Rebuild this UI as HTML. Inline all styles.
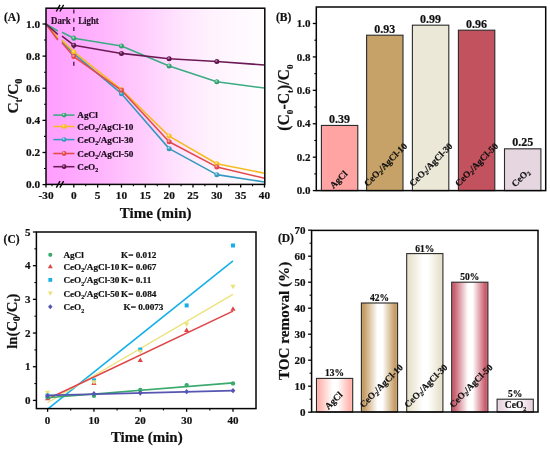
<!DOCTYPE html>
<html><head><meta charset="utf-8"><title>Figure</title>
<style>html,body{margin:0;padding:0;background:#fff;}svg{display:block;will-change:transform;} text{stroke:#111;stroke-width:0.2px;}</style></head>
<body><svg width="550" height="451" viewBox="0 0 550 451">
<rect width="550" height="451" fill="#fff"/>
<defs>
<linearGradient id="gA" x1="0" x2="1" y1="0" y2="0"><stop offset="0" stop-color="#ff9eff"/><stop offset="0.06" stop-color="#ffa2ff"/><stop offset="0.247" stop-color="#ffb4fd"/><stop offset="0.45" stop-color="#ffcdfd"/><stop offset="0.635" stop-color="#ffe7fe"/><stop offset="0.77" stop-color="#fff3fe"/><stop offset="0.93" stop-color="#fffafe"/><stop offset="1" stop-color="#fffcfe"/></linearGradient>
<radialGradient id="sG" cx="0.4" cy="0.35" r="0.65"><stop offset="0" stop-color="#b8f0d0"/><stop offset="0.5" stop-color="#34a070"/><stop offset="1" stop-color="#34a070"/></radialGradient>
<radialGradient id="sY" cx="0.4" cy="0.35" r="0.65"><stop offset="0" stop-color="#fff2a0"/><stop offset="0.5" stop-color="#f6bc1e"/><stop offset="1" stop-color="#f6bc1e"/></radialGradient>
<radialGradient id="sB" cx="0.4" cy="0.35" r="0.65"><stop offset="0" stop-color="#b0f0ff"/><stop offset="0.5" stop-color="#3599bd"/><stop offset="1" stop-color="#3599bd"/></radialGradient>
<radialGradient id="sR" cx="0.4" cy="0.35" r="0.65"><stop offset="0" stop-color="#ffc0c0"/><stop offset="0.5" stop-color="#e54848"/><stop offset="1" stop-color="#e54848"/></radialGradient>
<radialGradient id="sP" cx="0.4" cy="0.35" r="0.65"><stop offset="0" stop-color="#d090c0"/><stop offset="0.5" stop-color="#5a1446"/><stop offset="1" stop-color="#5a1446"/></radialGradient>
<linearGradient id="dA" x1="0" x2="1" y1="0" y2="0"><stop offset="0" stop-color="#ffc4bc"/><stop offset="0.06" stop-color="#ffb4ac"/><stop offset="0.45" stop-color="#ffffff"/><stop offset="0.58" stop-color="#ffffff"/><stop offset="0.93" stop-color="#ffb4ac"/><stop offset="1" stop-color="#ffc4bc"/></linearGradient>
<linearGradient id="d10" x1="0" x2="1" y1="0" y2="0"><stop offset="0" stop-color="#cca878"/><stop offset="0.06" stop-color="#c49a62"/><stop offset="0.45" stop-color="#ffffff"/><stop offset="0.58" stop-color="#ffffff"/><stop offset="0.93" stop-color="#c49a62"/><stop offset="1" stop-color="#cca878"/></linearGradient>
<linearGradient id="d30" x1="0" x2="1" y1="0" y2="0"><stop offset="0" stop-color="#eee8d6"/><stop offset="0.06" stop-color="#e8e2cc"/><stop offset="0.45" stop-color="#ffffff"/><stop offset="0.58" stop-color="#ffffff"/><stop offset="0.93" stop-color="#e8e2cc"/><stop offset="1" stop-color="#eee8d6"/></linearGradient>
<linearGradient id="d50" x1="0" x2="1" y1="0" y2="0"><stop offset="0" stop-color="#d8707e"/><stop offset="0.06" stop-color="#c85a6a"/><stop offset="0.45" stop-color="#ffffff"/><stop offset="0.58" stop-color="#ffffff"/><stop offset="0.93" stop-color="#c85a6a"/><stop offset="1" stop-color="#d8707e"/></linearGradient>
<linearGradient id="dC" x1="0" x2="1" y1="0" y2="0"><stop offset="0" stop-color="#ecdce6"/><stop offset="0.06" stop-color="#e6d2de"/><stop offset="0.45" stop-color="#ffffff"/><stop offset="0.58" stop-color="#ffffff"/><stop offset="0.93" stop-color="#e6d2de"/><stop offset="1" stop-color="#ecdce6"/></linearGradient>
</defs>
<rect x="46.0" y="8.2" width="218.8" height="176.20000000000002" fill="url(#gA)"/>
<line x1="73.8" y1="9.6" x2="73.8" y2="68" stroke="#4a2448" stroke-width="1.4" stroke-dasharray="4,4.7"/>
<polyline points="46,24 57.8,38.63" fill="none" stroke="#3599bd" stroke-width="1.55"/>
<polyline points="62,41.1 73.8,53.71 121.47,93.7 169.15,148.63 216.82,174.64 264.5,182.03" fill="none" stroke="#3599bd" stroke-width="1.55" stroke-linejoin="round"/>
<polyline points="46,24 57.8,37.76" fill="none" stroke="#f6bc1e" stroke-width="1.55"/>
<polyline points="62,40.08 73.8,51.94 121.47,89.52 169.15,136.1 216.82,163.72 264.5,173.2" fill="none" stroke="#f6bc1e" stroke-width="1.55" stroke-linejoin="round"/>
<polyline points="46,24 57.8,40.05" fill="none" stroke="#e54848" stroke-width="1.55"/>
<polyline points="62,42.76 73.8,56.6 121.47,90.33 169.15,141.72 216.82,166.93 264.5,178.34" fill="none" stroke="#e54848" stroke-width="1.55" stroke-linejoin="round"/>
<polyline points="46,24 57.8,31.04" fill="none" stroke="#3aab82" stroke-width="1.55"/>
<polyline points="62,32.23 73.8,38.29 121.47,46 169.15,65.92 216.82,81.82 264.5,88.08" fill="none" stroke="#3aab82" stroke-width="1.55" stroke-linejoin="round"/>
<polyline points="46,24 57.8,34.44" fill="none" stroke="#6c1a56" stroke-width="1.55"/>
<polyline points="62,36.2 73.8,45.2 121.47,53.39 169.15,58.85 216.82,61.58 264.5,64.95" fill="none" stroke="#6c1a56" stroke-width="1.55" stroke-linejoin="round"/>
<circle cx="73.8" cy="53.71" r="2.5" fill="url(#sB)"/>
<circle cx="121.47" cy="93.7" r="2.5" fill="url(#sB)"/>
<circle cx="169.15" cy="148.63" r="2.5" fill="url(#sB)"/>
<circle cx="216.82" cy="174.64" r="2.5" fill="url(#sB)"/>
<circle cx="73.8" cy="51.94" r="2.5" fill="url(#sY)"/>
<circle cx="121.47" cy="89.52" r="2.5" fill="url(#sY)"/>
<circle cx="169.15" cy="136.1" r="2.5" fill="url(#sY)"/>
<circle cx="216.82" cy="163.72" r="2.5" fill="url(#sY)"/>
<circle cx="73.8" cy="56.6" r="2.5" fill="url(#sR)"/>
<circle cx="121.47" cy="90.33" r="2.5" fill="url(#sR)"/>
<circle cx="169.15" cy="141.72" r="2.5" fill="url(#sR)"/>
<circle cx="216.82" cy="166.93" r="2.5" fill="url(#sR)"/>
<circle cx="73.8" cy="38.29" r="2.5" fill="url(#sG)"/>
<circle cx="121.47" cy="46" r="2.5" fill="url(#sG)"/>
<circle cx="169.15" cy="65.92" r="2.5" fill="url(#sG)"/>
<circle cx="216.82" cy="81.82" r="2.5" fill="url(#sG)"/>
<circle cx="73.8" cy="45.2" r="2.5" fill="url(#sP)"/>
<circle cx="121.47" cy="53.39" r="2.5" fill="url(#sP)"/>
<circle cx="169.15" cy="58.85" r="2.5" fill="url(#sP)"/>
<circle cx="216.82" cy="61.58" r="2.5" fill="url(#sP)"/>
<text x="51.1" y="23.7" font-size="9.6" textLength="19.6" lengthAdjust="spacingAndGlyphs" font-family="Liberation Serif" font-weight="bold" fill="#2a0f2a">Dark</text>
<text x="78.2" y="23.7" font-size="9.6" textLength="20.6" lengthAdjust="spacingAndGlyphs" font-family="Liberation Serif" font-weight="bold" fill="#2a0f2a">Light</text>
<line x1="53.3" y1="115.1" x2="74.5" y2="115.1" stroke="#3aab82" stroke-width="1.55"/>
<circle cx="64.1" cy="115.1" r="2.4" fill="url(#sG)"/>
<text x="77.3" y="118.1" font-size="9.2" font-family="Liberation Serif" font-weight="bold" fill="#1e0a1e">AgCl</text>
<line x1="53.3" y1="126.5" x2="74.5" y2="126.5" stroke="#f6bc1e" stroke-width="1.55"/>
<circle cx="64.1" cy="126.5" r="2.4" fill="url(#sY)"/>
<text x="77.3" y="129.5" font-size="9.2" font-family="Liberation Serif" font-weight="bold" fill="#1e0a1e">CeO<tspan font-size="5.98" dy="2.76">2</tspan><tspan dy="-2.76">/AgCl-10</tspan></text>
<line x1="53.3" y1="139.6" x2="74.5" y2="139.6" stroke="#3599bd" stroke-width="1.55"/>
<circle cx="64.1" cy="139.6" r="2.4" fill="url(#sB)"/>
<text x="77.3" y="142.6" font-size="9.2" font-family="Liberation Serif" font-weight="bold" fill="#1e0a1e">CeO<tspan font-size="5.98" dy="2.76">2</tspan><tspan dy="-2.76">/AgCl-30</tspan></text>
<line x1="53.3" y1="153.5" x2="74.5" y2="153.5" stroke="#e54848" stroke-width="1.55"/>
<circle cx="64.1" cy="153.5" r="2.4" fill="url(#sR)"/>
<text x="77.3" y="156.5" font-size="9.2" font-family="Liberation Serif" font-weight="bold" fill="#1e0a1e">CeO<tspan font-size="5.98" dy="2.76">2</tspan><tspan dy="-2.76">/AgCl-50</tspan></text>
<line x1="53.3" y1="166.7" x2="74.5" y2="166.7" stroke="#6c1a56" stroke-width="1.55"/>
<circle cx="64.1" cy="166.7" r="2.4" fill="url(#sP)"/>
<text x="77.3" y="169.7" font-size="9.2" font-family="Liberation Serif" font-weight="bold" fill="#1e0a1e">CeO<tspan font-size="5.98" dy="2.76">2</tspan><tspan dy="-2.76"></tspan></text>
<rect x="46.0" y="8.2" width="218.8" height="176.20000000000002" fill="none" stroke="#050505" stroke-width="1.5"/>
<line x1="56.3" y1="11.5" x2="60.0" y2="4.9" stroke="#050505" stroke-width="1.4"/>
<line x1="59.9" y1="11.5" x2="63.6" y2="4.9" stroke="#050505" stroke-width="1.4"/>
<line x1="56.3" y1="187.7" x2="60.0" y2="181.1" stroke="#050505" stroke-width="1.4"/>
<line x1="59.9" y1="187.7" x2="63.6" y2="181.1" stroke="#050505" stroke-width="1.4"/>
<line x1="73.8" y1="184.4" x2="73.8" y2="187.6" stroke="#050505" stroke-width="1.3"/>
<line x1="97.64" y1="184.4" x2="97.64" y2="187.6" stroke="#050505" stroke-width="1.3"/>
<line x1="121.47" y1="184.4" x2="121.47" y2="187.6" stroke="#050505" stroke-width="1.3"/>
<line x1="145.31" y1="184.4" x2="145.31" y2="187.6" stroke="#050505" stroke-width="1.3"/>
<line x1="169.15" y1="184.4" x2="169.15" y2="187.6" stroke="#050505" stroke-width="1.3"/>
<line x1="192.99" y1="184.4" x2="192.99" y2="187.6" stroke="#050505" stroke-width="1.3"/>
<line x1="216.82" y1="184.4" x2="216.82" y2="187.6" stroke="#050505" stroke-width="1.3"/>
<line x1="240.66" y1="184.4" x2="240.66" y2="187.6" stroke="#050505" stroke-width="1.3"/>
<line x1="264.5" y1="184.4" x2="264.5" y2="187.6" stroke="#050505" stroke-width="1.3"/>
<line x1="85.72" y1="184.4" x2="85.72" y2="186.20000000000002" stroke="#050505" stroke-width="1.1"/>
<line x1="109.56" y1="184.4" x2="109.56" y2="186.20000000000002" stroke="#050505" stroke-width="1.1"/>
<line x1="133.39" y1="184.4" x2="133.39" y2="186.20000000000002" stroke="#050505" stroke-width="1.1"/>
<line x1="157.23" y1="184.4" x2="157.23" y2="186.20000000000002" stroke="#050505" stroke-width="1.1"/>
<line x1="181.07" y1="184.4" x2="181.07" y2="186.20000000000002" stroke="#050505" stroke-width="1.1"/>
<line x1="204.91" y1="184.4" x2="204.91" y2="186.20000000000002" stroke="#050505" stroke-width="1.1"/>
<line x1="228.74" y1="184.4" x2="228.74" y2="186.20000000000002" stroke="#050505" stroke-width="1.1"/>
<line x1="252.58" y1="184.4" x2="252.58" y2="186.20000000000002" stroke="#050505" stroke-width="1.1"/>
<line x1="46.0" y1="184.4" x2="46.0" y2="187.6" stroke="#050505" stroke-width="1.3"/>
<line x1="52" y1="184.4" x2="52" y2="186.20000000000002" stroke="#050505" stroke-width="1.1"/>
<text x="46" y="198.8" font-size="11.3" font-family="Liberation Serif" font-weight="bold" text-anchor="middle" fill="#111">-30</text>
<text x="73.8" y="198.8" font-size="11.3" font-family="Liberation Serif" font-weight="bold" text-anchor="middle" fill="#111">0</text>
<text x="97.64" y="198.8" font-size="11.3" font-family="Liberation Serif" font-weight="bold" text-anchor="middle" fill="#111">5</text>
<text x="121.47" y="198.8" font-size="11.3" font-family="Liberation Serif" font-weight="bold" text-anchor="middle" fill="#111">10</text>
<text x="145.31" y="198.8" font-size="11.3" font-family="Liberation Serif" font-weight="bold" text-anchor="middle" fill="#111">15</text>
<text x="169.15" y="198.8" font-size="11.3" font-family="Liberation Serif" font-weight="bold" text-anchor="middle" fill="#111">20</text>
<text x="192.99" y="198.8" font-size="11.3" font-family="Liberation Serif" font-weight="bold" text-anchor="middle" fill="#111">25</text>
<text x="216.82" y="198.8" font-size="11.3" font-family="Liberation Serif" font-weight="bold" text-anchor="middle" fill="#111">30</text>
<text x="240.66" y="198.8" font-size="11.3" font-family="Liberation Serif" font-weight="bold" text-anchor="middle" fill="#111">35</text>
<text x="264.5" y="198.8" font-size="11.3" font-family="Liberation Serif" font-weight="bold" text-anchor="middle" fill="#111">40</text>
<line x1="42.5" y1="184.6" x2="46.0" y2="184.6" stroke="#050505" stroke-width="1.3"/>
<text x="40.2" y="188.3" font-size="11.3" font-family="Liberation Serif" font-weight="bold" text-anchor="end" fill="#111">0.0</text>
<line x1="42.5" y1="152.48" x2="46.0" y2="152.48" stroke="#050505" stroke-width="1.3"/>
<text x="40.2" y="156.18" font-size="11.3" font-family="Liberation Serif" font-weight="bold" text-anchor="end" fill="#111">0.2</text>
<line x1="42.5" y1="120.36" x2="46.0" y2="120.36" stroke="#050505" stroke-width="1.3"/>
<text x="40.2" y="124.06" font-size="11.3" font-family="Liberation Serif" font-weight="bold" text-anchor="end" fill="#111">0.4</text>
<line x1="42.5" y1="88.24" x2="46.0" y2="88.24" stroke="#050505" stroke-width="1.3"/>
<text x="40.2" y="91.94" font-size="11.3" font-family="Liberation Serif" font-weight="bold" text-anchor="end" fill="#111">0.6</text>
<line x1="42.5" y1="56.12" x2="46.0" y2="56.12" stroke="#050505" stroke-width="1.3"/>
<text x="40.2" y="59.82" font-size="11.3" font-family="Liberation Serif" font-weight="bold" text-anchor="end" fill="#111">0.8</text>
<line x1="42.5" y1="24" x2="46.0" y2="24" stroke="#050505" stroke-width="1.3"/>
<text x="40.2" y="27.7" font-size="11.3" font-family="Liberation Serif" font-weight="bold" text-anchor="end" fill="#111">1.0</text>
<line x1="44.0" y1="168.54" x2="46.0" y2="168.54" stroke="#050505" stroke-width="1.1"/>
<line x1="44.0" y1="136.42" x2="46.0" y2="136.42" stroke="#050505" stroke-width="1.1"/>
<line x1="44.0" y1="104.3" x2="46.0" y2="104.3" stroke="#050505" stroke-width="1.1"/>
<line x1="44.0" y1="72.18" x2="46.0" y2="72.18" stroke="#050505" stroke-width="1.1"/>
<line x1="44.0" y1="40.06" x2="46.0" y2="40.06" stroke="#050505" stroke-width="1.1"/>
<text x="4" y="21.1" font-size="11.5" font-family="Liberation Serif" font-weight="bold" fill="#111">(A)</text>
<text x="155.7" y="218.3" font-size="15" font-family="Liberation Serif" font-weight="bold" text-anchor="middle" fill="#111">Time (min)</text>
<text transform="translate(18.2,96.1) rotate(-90)" font-size="15.5" font-family="Liberation Serif" font-weight="bold" text-anchor="middle" fill="#111">C<tspan font-size="9.5" dy="3.6">t</tspan><tspan dy="-3.6">/C</tspan><tspan font-size="9.5" dy="3.6">0</tspan></text>
<rect x="321.4" y="125.43" width="36.4" height="65.17" fill="#ffa3a3" stroke="#2a2a2a" stroke-width="1.1"/>
<text x="339.6" y="123.03" font-size="12" font-family="Liberation Serif" font-weight="bold" text-anchor="middle" fill="#111">0.39</text>
<rect x="366.6" y="35.2" width="36.4" height="155.4" fill="#c6a268" stroke="#2a2a2a" stroke-width="1.1"/>
<text x="384.8" y="32.8" font-size="12" font-family="Liberation Serif" font-weight="bold" text-anchor="middle" fill="#111">0.93</text>
<rect x="412.4" y="25.17" width="36.4" height="165.43" fill="#ece8d8" stroke="#2a2a2a" stroke-width="1.1"/>
<text x="430.6" y="22.77" font-size="12" font-family="Liberation Serif" font-weight="bold" text-anchor="middle" fill="#111">0.99</text>
<rect x="458.4" y="30.18" width="36.4" height="160.42" fill="#c2525e" stroke="#2a2a2a" stroke-width="1.1"/>
<text x="476.6" y="27.78" font-size="12" font-family="Liberation Serif" font-weight="bold" text-anchor="middle" fill="#111">0.96</text>
<rect x="504.5" y="148.82" width="36.4" height="41.78" fill="#e6d6e0" stroke="#2a2a2a" stroke-width="1.1"/>
<text x="522.7" y="146.42" font-size="12" font-family="Liberation Serif" font-weight="bold" text-anchor="middle" fill="#111">0.25</text>
<text transform="translate(339.2,180.2) rotate(-45)" font-size="9.3" font-family="Liberation Serif" font-weight="bold" text-anchor="middle" dominant-baseline="middle" fill="#111">AgCl</text>
<text transform="translate(386.2,165.4) rotate(-45)" font-size="9.3" font-family="Liberation Serif" font-weight="bold" text-anchor="middle" dominant-baseline="middle" fill="#111">CeO<tspan font-size="6.05" dy="2.79">2</tspan><tspan dy="-2.79">/AgCl-10</tspan></text>
<text transform="translate(431.6,165.4) rotate(-45)" font-size="9.3" font-family="Liberation Serif" font-weight="bold" text-anchor="middle" dominant-baseline="middle" fill="#111">CeO<tspan font-size="6.05" dy="2.79">2</tspan><tspan dy="-2.79">/AgCl-30</tspan></text>
<text transform="translate(477.2,165.4) rotate(-45)" font-size="9.3" font-family="Liberation Serif" font-weight="bold" text-anchor="middle" dominant-baseline="middle" fill="#111">CeO<tspan font-size="6.05" dy="2.79">2</tspan><tspan dy="-2.79">/AgCl-50</tspan></text>
<text transform="translate(521.2,178.6) rotate(-45)" font-size="9.3" font-family="Liberation Serif" font-weight="bold" text-anchor="middle" dominant-baseline="middle" fill="#111">CeO<tspan font-size="6.05" dy="2.79">2</tspan><tspan dy="-2.79"></tspan></text>
<rect x="316.3" y="7.0" width="229.40000000000003" height="183.6" fill="none" stroke="#050505" stroke-width="1.5"/>
<line x1="312.8" y1="190.6" x2="316.3" y2="190.6" stroke="#050505" stroke-width="1.3"/>
<text x="310.5" y="194.3" font-size="11" font-family="Liberation Serif" font-weight="bold" text-anchor="end" fill="#111">0.0</text>
<line x1="312.8" y1="157.18" x2="316.3" y2="157.18" stroke="#050505" stroke-width="1.3"/>
<text x="310.5" y="160.88" font-size="11" font-family="Liberation Serif" font-weight="bold" text-anchor="end" fill="#111">0.2</text>
<line x1="312.8" y1="123.76" x2="316.3" y2="123.76" stroke="#050505" stroke-width="1.3"/>
<text x="310.5" y="127.46" font-size="11" font-family="Liberation Serif" font-weight="bold" text-anchor="end" fill="#111">0.4</text>
<line x1="312.8" y1="90.34" x2="316.3" y2="90.34" stroke="#050505" stroke-width="1.3"/>
<text x="310.5" y="94.04" font-size="11" font-family="Liberation Serif" font-weight="bold" text-anchor="end" fill="#111">0.6</text>
<line x1="312.8" y1="56.92" x2="316.3" y2="56.92" stroke="#050505" stroke-width="1.3"/>
<text x="310.5" y="60.62" font-size="11" font-family="Liberation Serif" font-weight="bold" text-anchor="end" fill="#111">0.8</text>
<line x1="312.8" y1="23.5" x2="316.3" y2="23.5" stroke="#050505" stroke-width="1.3"/>
<text x="310.5" y="27.2" font-size="11" font-family="Liberation Serif" font-weight="bold" text-anchor="end" fill="#111">1.0</text>
<line x1="314.3" y1="173.89" x2="316.3" y2="173.89" stroke="#050505" stroke-width="1.1"/>
<line x1="314.3" y1="140.47" x2="316.3" y2="140.47" stroke="#050505" stroke-width="1.1"/>
<line x1="314.3" y1="107.05" x2="316.3" y2="107.05" stroke="#050505" stroke-width="1.1"/>
<line x1="314.3" y1="73.63" x2="316.3" y2="73.63" stroke="#050505" stroke-width="1.1"/>
<line x1="314.3" y1="40.21" x2="316.3" y2="40.21" stroke="#050505" stroke-width="1.1"/>
<text x="276" y="20.6" font-size="11.5" font-family="Liberation Serif" font-weight="bold" fill="#111">(B)</text>
<text transform="translate(288.8,97.6) rotate(-90)" font-size="15.7" font-family="Liberation Serif" font-weight="bold" text-anchor="middle" fill="#111">(C<tspan font-size="9.2" dy="3.8">0</tspan><tspan dy="-3.8">-C</tspan><tspan font-size="9.2" dy="3.8">t</tspan><tspan dy="-3.8">)/C</tspan><tspan font-size="9.2" dy="3.8">0</tspan></text>
<defs><clipPath id="cpC"><rect x="36.4" y="232.0" width="219.6" height="176.60000000000002"/></clipPath></defs>
<line x1="47.6" y1="409.16" x2="233" y2="260.96" stroke="#16b0e8" stroke-width="1.6" clip-path="url(#cpC)"/>
<line x1="47.6" y1="402.76" x2="233" y2="294.31" stroke="#ece27a" stroke-width="1.35" clip-path="url(#cpC)"/>
<line x1="47.6" y1="399.05" x2="233" y2="311.15" stroke="#de4448" stroke-width="1.6" clip-path="url(#cpC)"/>
<line x1="47.6" y1="397.71" x2="233" y2="382.89" stroke="#3aaa6e" stroke-width="1.6" clip-path="url(#cpC)"/>
<line x1="47.6" y1="395.35" x2="233" y2="390.63" stroke="#5656b2" stroke-width="1.6" clip-path="url(#cpC)"/>
<rect x="45.6" y="393.35" width="4" height="4" fill="#16b0e8"/>
<rect x="91.95" y="378.33" width="4" height="4" fill="#16b0e8"/>
<rect x="138.3" y="347.54" width="4" height="4" fill="#16b0e8"/>
<rect x="184.65" y="303.42" width="4" height="4" fill="#16b0e8"/>
<rect x="231" y="243.47" width="4" height="4" fill="#16b0e8"/>
<polygon points="47.6,395.78 50.2,400.28 45,400.28" fill="#de4448"/>
<polygon points="93.95,380.62 96.55,385.12 91.35,385.12" fill="#de4448"/>
<polygon points="140.3,357.38 142.9,361.88 137.7,361.88" fill="#de4448"/>
<polygon points="186.65,327.41 189.25,331.91 184.05,331.91" fill="#de4448"/>
<polygon points="233,306.19 235.6,310.69 230.4,310.69" fill="#de4448"/>
<polygon points="47.6,395.25 50.2,390.75 45,390.75" fill="#ece27a"/>
<polygon points="93.95,384.81 96.55,380.31 91.35,380.31" fill="#ece27a"/>
<polygon points="140.3,354.16 142.9,349.66 137.7,349.66" fill="#ece27a"/>
<polygon points="186.65,326.88 189.25,322.38 184.05,322.38" fill="#ece27a"/>
<polygon points="233,289.16 235.6,284.66 230.4,284.66" fill="#ece27a"/>
<circle cx="47.6" cy="397.37" r="2.2" fill="#3aaa6e"/>
<circle cx="93.95" cy="395.68" r="2.2" fill="#3aaa6e"/>
<circle cx="140.3" cy="389.96" r="2.2" fill="#3aaa6e"/>
<circle cx="186.65" cy="385.08" r="2.2" fill="#3aaa6e"/>
<circle cx="233" cy="383.39" r="2.2" fill="#3aaa6e"/>
<polygon points="47.6,392.98 50,395.68 47.6,398.38 45.2,395.68" fill="#5656b2"/>
<polygon points="93.95,390.96 96.35,393.66 93.95,396.36 91.55,393.66" fill="#5656b2"/>
<polygon points="140.3,390.29 142.7,392.99 140.3,395.69 137.9,392.99" fill="#5656b2"/>
<polygon points="186.65,388.94 189.05,391.64 186.65,394.34 184.25,391.64" fill="#5656b2"/>
<polygon points="233,387.93 235.4,390.63 233,393.33 230.6,390.63" fill="#5656b2"/>
<circle cx="50.3" cy="254.8" r="2.09" fill="#3aaa6e"/>
<text x="63.4" y="257.9" font-size="9.2" font-family="Liberation Serif" font-weight="bold" fill="#111">AgCl</text>
<text x="121.0" y="257.9" font-size="9.2" font-family="Liberation Serif" font-weight="bold" fill="#111">K= 0.012</text>
<polygon points="50.3,263.93 52.77,268.2 47.83,268.2" fill="#de4448"/>
<text x="63.4" y="269.5" font-size="9.2" font-family="Liberation Serif" font-weight="bold" fill="#111">CeO<tspan font-size="5.98" dy="2.76">2</tspan><tspan dy="-2.76">/AgCl-10</tspan></text>
<text x="121.0" y="269.5" font-size="9.2" font-family="Liberation Serif" font-weight="bold" fill="#111">K= 0.067</text>
<rect x="48.4" y="278" width="3.8" height="3.8" fill="#16b0e8"/>
<text x="63.4" y="283" font-size="9.2" font-family="Liberation Serif" font-weight="bold" fill="#111">CeO<tspan font-size="5.98" dy="2.76">2</tspan><tspan dy="-2.76">/AgCl-30</tspan></text>
<text x="121.0" y="283" font-size="9.2" font-family="Liberation Serif" font-weight="bold" fill="#111">K= 0.11</text>
<polygon points="50.3,295.87 52.77,291.59 47.83,291.59" fill="#ece27a"/>
<text x="63.4" y="296.5" font-size="9.2" font-family="Liberation Serif" font-weight="bold" fill="#111">CeO<tspan font-size="5.98" dy="2.76">2</tspan><tspan dy="-2.76">/AgCl-50</tspan></text>
<text x="121.0" y="296.5" font-size="9.2" font-family="Liberation Serif" font-weight="bold" fill="#111">K= 0.084</text>
<polygon points="50.3,304.24 52.58,306.8 50.3,309.37 48.02,306.8" fill="#5656b2"/>
<text x="63.4" y="309.9" font-size="9.2" font-family="Liberation Serif" font-weight="bold" fill="#111">CeO<tspan font-size="5.98" dy="2.76">2</tspan><tspan dy="-2.76"></tspan></text>
<text x="123.5" y="309.9" font-size="9.2" font-family="Liberation Serif" font-weight="bold" fill="#111">K= 0.0073</text>
<rect x="36.4" y="232.0" width="219.6" height="176.60000000000002" fill="none" stroke="#050505" stroke-width="1.5"/>
<line x1="47.6" y1="408.6" x2="47.6" y2="411.8" stroke="#050505" stroke-width="1.3"/>
<text x="47.6" y="423.8" font-size="11" font-family="Liberation Serif" font-weight="bold" text-anchor="middle" fill="#111">0</text>
<line x1="93.95" y1="408.6" x2="93.95" y2="411.8" stroke="#050505" stroke-width="1.3"/>
<text x="93.95" y="423.8" font-size="11" font-family="Liberation Serif" font-weight="bold" text-anchor="middle" fill="#111">10</text>
<line x1="140.3" y1="408.6" x2="140.3" y2="411.8" stroke="#050505" stroke-width="1.3"/>
<text x="140.3" y="423.8" font-size="11" font-family="Liberation Serif" font-weight="bold" text-anchor="middle" fill="#111">20</text>
<line x1="186.65" y1="408.6" x2="186.65" y2="411.8" stroke="#050505" stroke-width="1.3"/>
<text x="186.65" y="423.8" font-size="11" font-family="Liberation Serif" font-weight="bold" text-anchor="middle" fill="#111">30</text>
<line x1="233" y1="408.6" x2="233" y2="411.8" stroke="#050505" stroke-width="1.3"/>
<text x="233" y="423.8" font-size="11" font-family="Liberation Serif" font-weight="bold" text-anchor="middle" fill="#111">40</text>
<line x1="70.78" y1="408.6" x2="70.78" y2="410.40000000000003" stroke="#050505" stroke-width="1.1"/>
<line x1="117.12" y1="408.6" x2="117.12" y2="410.40000000000003" stroke="#050505" stroke-width="1.1"/>
<line x1="163.47" y1="408.6" x2="163.47" y2="410.40000000000003" stroke="#050505" stroke-width="1.1"/>
<line x1="209.82" y1="408.6" x2="209.82" y2="410.40000000000003" stroke="#050505" stroke-width="1.1"/>
<line x1="32.9" y1="400.4" x2="36.4" y2="400.4" stroke="#050505" stroke-width="1.3"/>
<text x="30.5" y="404.1" font-size="11" font-family="Liberation Serif" font-weight="bold" text-anchor="end" fill="#111">0</text>
<line x1="32.9" y1="366.72" x2="36.4" y2="366.72" stroke="#050505" stroke-width="1.3"/>
<text x="30.5" y="370.42" font-size="11" font-family="Liberation Serif" font-weight="bold" text-anchor="end" fill="#111">1</text>
<line x1="32.9" y1="333.04" x2="36.4" y2="333.04" stroke="#050505" stroke-width="1.3"/>
<text x="30.5" y="336.74" font-size="11" font-family="Liberation Serif" font-weight="bold" text-anchor="end" fill="#111">2</text>
<line x1="32.9" y1="299.36" x2="36.4" y2="299.36" stroke="#050505" stroke-width="1.3"/>
<text x="30.5" y="303.06" font-size="11" font-family="Liberation Serif" font-weight="bold" text-anchor="end" fill="#111">3</text>
<line x1="32.9" y1="265.68" x2="36.4" y2="265.68" stroke="#050505" stroke-width="1.3"/>
<text x="30.5" y="269.38" font-size="11" font-family="Liberation Serif" font-weight="bold" text-anchor="end" fill="#111">4</text>
<line x1="32.9" y1="232" x2="36.4" y2="232" stroke="#050505" stroke-width="1.3"/>
<text x="30.5" y="235.7" font-size="11" font-family="Liberation Serif" font-weight="bold" text-anchor="end" fill="#111">5</text>
<line x1="34.4" y1="383.56" x2="36.4" y2="383.56" stroke="#050505" stroke-width="1.1"/>
<line x1="34.4" y1="349.88" x2="36.4" y2="349.88" stroke="#050505" stroke-width="1.1"/>
<line x1="34.4" y1="316.2" x2="36.4" y2="316.2" stroke="#050505" stroke-width="1.1"/>
<line x1="34.4" y1="282.52" x2="36.4" y2="282.52" stroke="#050505" stroke-width="1.1"/>
<line x1="34.4" y1="248.84" x2="36.4" y2="248.84" stroke="#050505" stroke-width="1.1"/>
<text x="3.6" y="242.8" font-size="11.5" font-family="Liberation Serif" font-weight="bold" fill="#111">(C)</text>
<text x="146.8" y="441.9" font-size="15" font-family="Liberation Serif" font-weight="bold" text-anchor="middle" fill="#111">Time (min)</text>
<text transform="translate(16.9,321.1) rotate(-90)" font-size="14.7" font-family="Liberation Serif" font-weight="bold" text-anchor="middle" fill="#111">ln(C<tspan font-size="9.5" dy="3">0</tspan><tspan dy="-3">/C</tspan><tspan font-size="9.5" dy="3">t</tspan><tspan dy="-3">)</tspan></text>
<rect x="316.5" y="378.4" width="36.2" height="33.6" fill="url(#dA)" stroke="#2a2a2a" stroke-width="1.1"/>
<text x="334.6" y="376.4" font-size="9.5" font-family="Liberation Serif" font-weight="bold" text-anchor="middle" fill="#111">13%</text>
<rect x="361.4" y="303" width="36.2" height="109" fill="url(#d10)" stroke="#2a2a2a" stroke-width="1.1"/>
<text x="379.5" y="301" font-size="9.5" font-family="Liberation Serif" font-weight="bold" text-anchor="middle" fill="#111">42%</text>
<rect x="406.7" y="253.6" width="36.2" height="158.4" fill="url(#d30)" stroke="#2a2a2a" stroke-width="1.1"/>
<text x="424.8" y="251.6" font-size="9.5" font-family="Liberation Serif" font-weight="bold" text-anchor="middle" fill="#111">61%</text>
<rect x="451.7" y="282.2" width="36.2" height="129.8" fill="url(#d50)" stroke="#2a2a2a" stroke-width="1.1"/>
<text x="469.8" y="280.2" font-size="9.5" font-family="Liberation Serif" font-weight="bold" text-anchor="middle" fill="#111">50%</text>
<rect x="497.1" y="399.2" width="36.2" height="12.8" fill="url(#dC)" stroke="#2a2a2a" stroke-width="1.1"/>
<text x="515.2" y="397.2" font-size="9.5" font-family="Liberation Serif" font-weight="bold" text-anchor="middle" fill="#111">5%</text>
<text transform="translate(334.2,401.3) rotate(-45)" font-size="9.3" font-family="Liberation Serif" font-weight="bold" text-anchor="middle" dominant-baseline="middle" fill="#111">AgCl</text>
<text transform="translate(382.0,386.6) rotate(-45)" font-size="9.3" font-family="Liberation Serif" font-weight="bold" text-anchor="middle" dominant-baseline="middle" fill="#111">CeO<tspan font-size="6.05" dy="2.79">2</tspan><tspan dy="-2.79">/AgCl-10</tspan></text>
<text transform="translate(426.6,386.6) rotate(-45)" font-size="9.3" font-family="Liberation Serif" font-weight="bold" text-anchor="middle" dominant-baseline="middle" fill="#111">CeO<tspan font-size="6.05" dy="2.79">2</tspan><tspan dy="-2.79">/AgCl-30</tspan></text>
<text transform="translate(471.7,386.6) rotate(-45)" font-size="9.3" font-family="Liberation Serif" font-weight="bold" text-anchor="middle" dominant-baseline="middle" fill="#111">CeO<tspan font-size="6.05" dy="2.79">2</tspan><tspan dy="-2.79">/AgCl-50</tspan></text>
<text x="515.6" y="408.2" font-size="9.5" font-family="Liberation Serif" font-weight="bold" text-anchor="middle" fill="#111">CeO<tspan font-size="6.17" dy="2.85">2</tspan><tspan dy="-2.85"></tspan></text>
<rect x="311.6" y="230.4" width="226.39999999999998" height="181.6" fill="none" stroke="#050505" stroke-width="1.5"/>
<line x1="308.1" y1="412.2" x2="311.6" y2="412.2" stroke="#050505" stroke-width="1.3"/>
<text x="305.5" y="415.9" font-size="11" font-family="Liberation Serif" font-weight="bold" text-anchor="end" fill="#111">0</text>
<line x1="308.1" y1="386.2" x2="311.6" y2="386.2" stroke="#050505" stroke-width="1.3"/>
<text x="305.5" y="389.9" font-size="11" font-family="Liberation Serif" font-weight="bold" text-anchor="end" fill="#111">10</text>
<line x1="308.1" y1="360.2" x2="311.6" y2="360.2" stroke="#050505" stroke-width="1.3"/>
<text x="305.5" y="363.9" font-size="11" font-family="Liberation Serif" font-weight="bold" text-anchor="end" fill="#111">20</text>
<line x1="308.1" y1="334.2" x2="311.6" y2="334.2" stroke="#050505" stroke-width="1.3"/>
<text x="305.5" y="337.9" font-size="11" font-family="Liberation Serif" font-weight="bold" text-anchor="end" fill="#111">30</text>
<line x1="308.1" y1="308.2" x2="311.6" y2="308.2" stroke="#050505" stroke-width="1.3"/>
<text x="305.5" y="311.9" font-size="11" font-family="Liberation Serif" font-weight="bold" text-anchor="end" fill="#111">40</text>
<line x1="308.1" y1="282.2" x2="311.6" y2="282.2" stroke="#050505" stroke-width="1.3"/>
<text x="305.5" y="285.9" font-size="11" font-family="Liberation Serif" font-weight="bold" text-anchor="end" fill="#111">50</text>
<line x1="308.1" y1="256.2" x2="311.6" y2="256.2" stroke="#050505" stroke-width="1.3"/>
<text x="305.5" y="259.9" font-size="11" font-family="Liberation Serif" font-weight="bold" text-anchor="end" fill="#111">60</text>
<line x1="308.1" y1="230.2" x2="311.6" y2="230.2" stroke="#050505" stroke-width="1.3"/>
<text x="305.5" y="233.9" font-size="11" font-family="Liberation Serif" font-weight="bold" text-anchor="end" fill="#111">70</text>
<line x1="309.6" y1="399.2" x2="311.6" y2="399.2" stroke="#050505" stroke-width="1.1"/>
<line x1="309.6" y1="373.2" x2="311.6" y2="373.2" stroke="#050505" stroke-width="1.1"/>
<line x1="309.6" y1="347.2" x2="311.6" y2="347.2" stroke="#050505" stroke-width="1.1"/>
<line x1="309.6" y1="321.2" x2="311.6" y2="321.2" stroke="#050505" stroke-width="1.1"/>
<line x1="309.6" y1="295.2" x2="311.6" y2="295.2" stroke="#050505" stroke-width="1.1"/>
<line x1="309.6" y1="269.2" x2="311.6" y2="269.2" stroke="#050505" stroke-width="1.1"/>
<line x1="309.6" y1="243.2" x2="311.6" y2="243.2" stroke="#050505" stroke-width="1.1"/>
<text x="277.9" y="241.5" font-size="11.6" font-family="Liberation Serif" font-weight="bold" fill="#111">(D)</text>
<text transform="translate(288.9,320.9) rotate(-90)" font-size="15.2" font-family="Liberation Serif" font-weight="bold" text-anchor="middle" fill="#111">TOC removal (%)</text>
</svg></body></html>
